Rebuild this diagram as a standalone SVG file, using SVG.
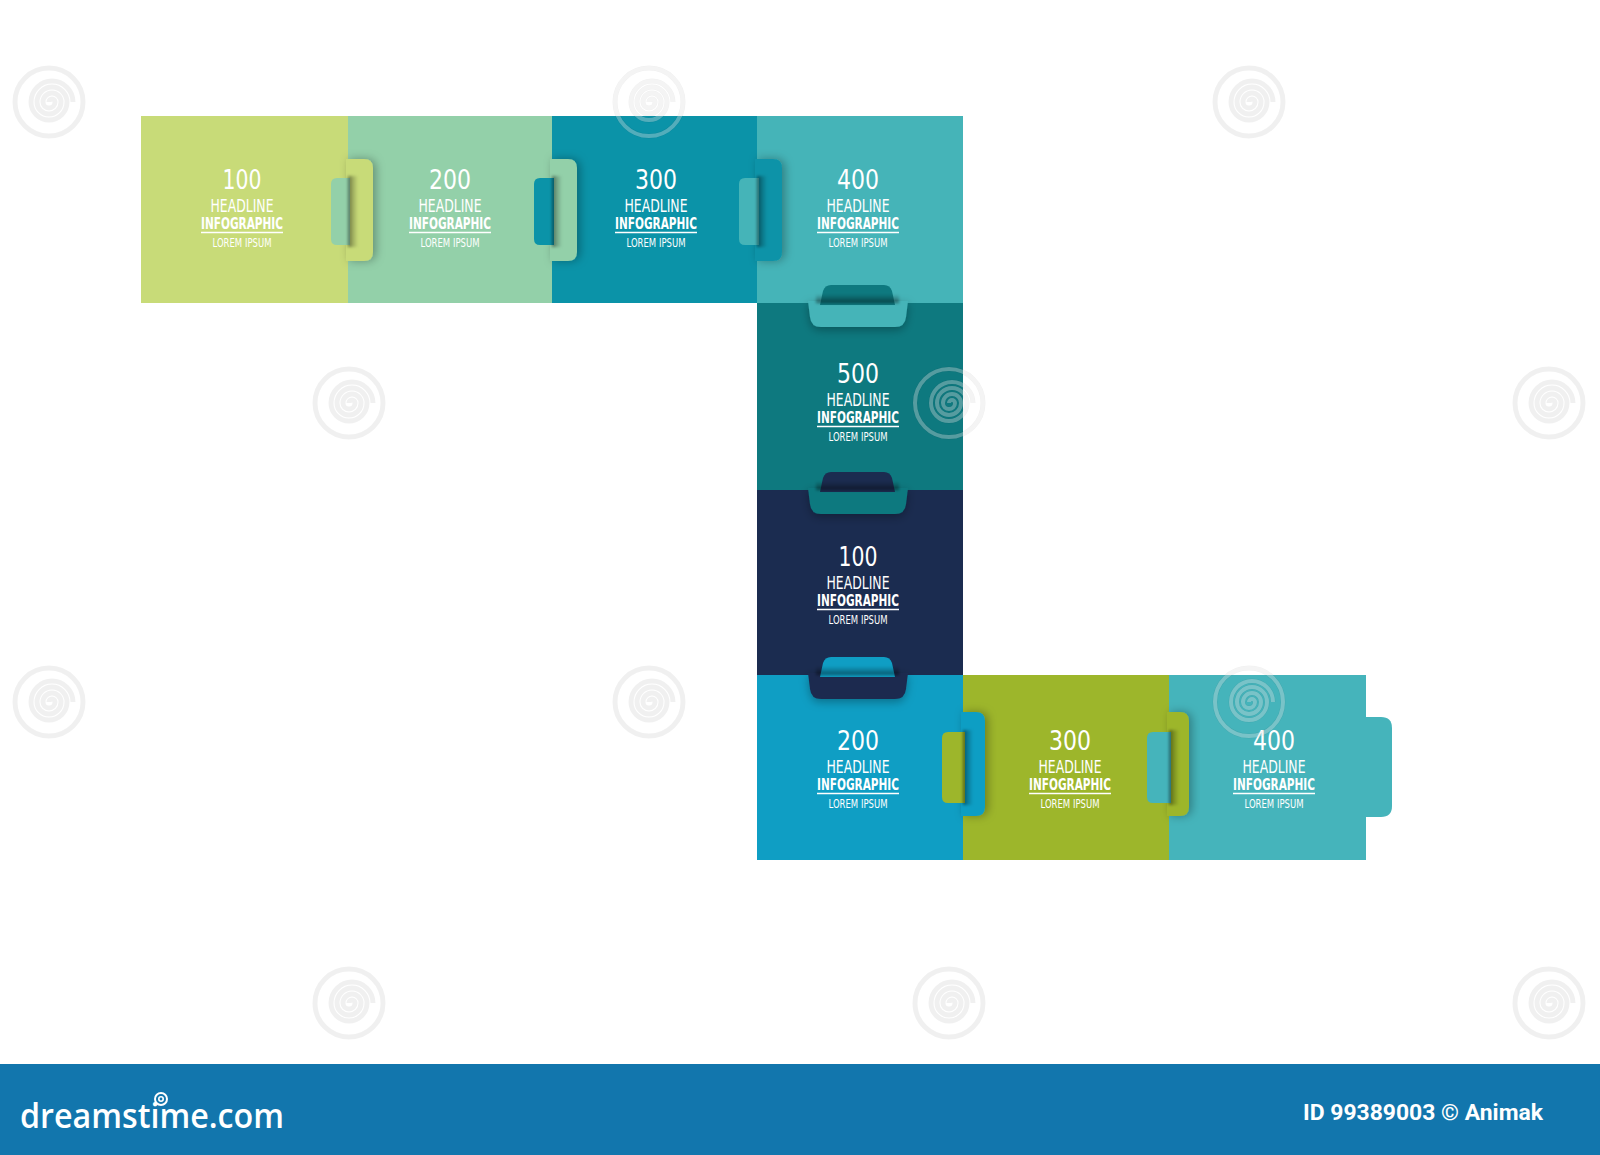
<svg xmlns="http://www.w3.org/2000/svg" width="1600" height="1155" viewBox="0 0 1600 1155">
  <style>
    .t { font-family: "Liberation Sans Narrow", "DejaVu Sans Condensed", "Liberation Sans", sans-serif; fill: #ffffff; text-anchor: middle; }
    .num { font-size: 27px; }
    .hl { font-size: 18px; }
    .ig { font-size: 15.5px; font-weight: bold; }
    .lo { font-size: 11.5px; }
    .ul { stroke: #ffffff; stroke-width: 1.6; }
    .slotv { fill: url(#slotH); }
    .sloth { fill: url(#slotV); }
    .wm1 { fill: none; stroke: #000000; stroke-opacity: 0.06; stroke-width: 5; }
    .wm2 { fill: none; stroke: #ffffff; stroke-opacity: 0.3; stroke-width: 4; }
  </style>
  <defs>
    <filter id="shR" x="-50%" y="-30%" width="200%" height="160%">
      <feDropShadow dx="3" dy="0" stdDeviation="5" flood-color="#000" flood-opacity="0.3"/>
    </filter>
    <filter id="shD" x="-30%" y="-50%" width="160%" height="200%">
      <feDropShadow dx="0" dy="3" stdDeviation="5" flood-color="#000" flood-opacity="0.3"/>
    </filter>
    <filter id="blur2" x="-50%" y="-50%" width="200%" height="200%">
      <feGaussianBlur stdDeviation="1.5"/>
    </filter>
    <linearGradient id="slotH" x1="0" y1="0" x2="1" y2="0">
      <stop offset="0" stop-color="#000" stop-opacity="0.5"/>
      <stop offset="0.4" stop-color="#000" stop-opacity="0.25"/>
      <stop offset="1" stop-color="#000" stop-opacity="0"/>
    </linearGradient>
    <linearGradient id="slotV" x1="0" y1="0" x2="0" y2="1">
      <stop offset="0" stop-color="#000" stop-opacity="0"/>
      <stop offset="0.6" stop-color="#000" stop-opacity="0.25"/>
      <stop offset="1" stop-color="#000" stop-opacity="0.5"/>
    </linearGradient>
    <g id="spiral">
      <circle cx="0" cy="0" r="34"/>
      <path d="M0,0 A3,3 0 0 1 6,0 A6,6 0 0 1 -6,0 A9,9 0 0 1 12,0 A12,12 0 0 1 -12,0 A15,15 0 0 1 18,0 A18,18 0 0 1 -18,0 A21,21 0 0 1 24,0"/>
    </g>
  </defs>

  <rect x="0" y="0" width="1600" height="1155" fill="#ffffff"/>

  <!-- cards -->
  <g id="card1"><rect x="141" y="116" width="207" height="187" fill="#c8db78"/></g>
  <g id="card2"><rect x="348" y="116" width="204" height="187" fill="#93d0a9"/></g>
  <g id="card3"><rect x="552" y="116" width="205" height="187" fill="#0b93a8"/></g>
  <g id="card4"><rect x="757" y="116" width="206" height="187" fill="#45b4b8"/></g>
  <g id="card5"><rect x="757" y="303" width="206" height="187" fill="#0e797f"/></g>
  <g id="card6"><rect x="757" y="490" width="206" height="185" fill="#1b2c50"/></g>
  <g id="card7"><rect x="757" y="675" width="206" height="185" fill="#0f9ec4"/></g>
  <g id="card8"><rect x="963" y="675" width="206" height="185" fill="#9db62b"/></g>
  <g id="card9">
    <rect x="1169" y="675" width="197" height="185" fill="#45b4bb"/>
    <path d="M1364,717 H1381 Q1392,717 1392,728 V806 Q1392,817 1381,817 H1364 Z" fill="#45b4bb"/>
  </g>

  <!-- joints between cards -->
  <g id="connectors">
    <!-- card1 -> card2 -->
    <path d="M346,159 H364 Q373,159 373,168 V252 Q373,261 364,261 H346 Z" fill="#c8db78" filter="url(#shR)"/>
    <path d="M350,178 H337 Q331,178 331,184 V239 Q331,245 337,245 H350 Z" fill="#93d0a9"/>
    <rect class="slotv" x="348" y="176" width="10" height="71" filter="url(#blur2)"/>
    <!-- card2 -> card3 -->
    <path d="M550,159 H568 Q577,159 577,168 V252 Q577,261 568,261 H550 Z" fill="#93d0a9" filter="url(#shR)"/>
    <path d="M554,178 H540 Q534,178 534,184 V239 Q534,245 540,245 H554 Z" fill="#0b93a8"/>
    <rect class="slotv" x="552" y="176" width="10" height="71" filter="url(#blur2)"/>
    <!-- card3 -> card4 -->
    <path d="M755,159 H773 Q782,159 782,168 V252 Q782,261 773,261 H755 Z" fill="#0b93a8" filter="url(#shR)"/>
    <path d="M759,178 H745 Q739,178 739,184 V239 Q739,245 745,245 H759 Z" fill="#45b4b8"/>
    <rect class="slotv" x="757" y="176" width="10" height="71" filter="url(#blur2)"/>
    <!-- card4 -> card5 -->
    <path d="M808,301 H908 L906,317 Q905,327 895,327 H821 Q811,327 810,317 Z" fill="#45b4b8" filter="url(#shD)"/>
    <path d="M820,305 L823,291 Q825,285 831,285 H884 Q890,285 892,291 L895,305 Z" fill="#0e797f"/>
    <rect class="sloth" x="816" y="294" width="83" height="9" filter="url(#blur2)"/>
    <!-- card5 -> card6 -->
    <path d="M808,488 H908 L906,504 Q905,514 895,514 H821 Q811,514 810,504 Z" fill="#0e797f" filter="url(#shD)"/>
    <path d="M820,492 L823,478 Q825,472 831,472 H884 Q890,472 892,478 L895,492 Z" fill="#1b2c50"/>
    <rect class="sloth" x="816" y="481" width="83" height="9" filter="url(#blur2)"/>
    <!-- card6 -> card7 -->
    <path d="M808,673 H908 L906,689 Q905,699 895,699 H821 Q811,699 810,689 Z" fill="#1b2c50" filter="url(#shD)"/>
    <path d="M820,677 L823,663 Q825,657 831,657 H884 Q890,657 892,663 L895,677 Z" fill="#0f9ec4"/>
    <rect class="sloth" x="816" y="666" width="83" height="9" filter="url(#blur2)"/>
    <!-- card7 -> card8 -->
    <path d="M961,712 H976 Q985,712 985,721 V807 Q985,816 976,816 H961 Z" fill="#0f9ec4" filter="url(#shR)"/>
    <path d="M965,732 H948 Q942,732 942,738 V797 Q942,803 948,803 H965 Z" fill="#9db62b"/>
    <rect class="slotv" x="963" y="730" width="10" height="75" filter="url(#blur2)"/>
    <!-- card8 -> card9 -->
    <path d="M1167,712 H1180 Q1189,712 1189,721 V807 Q1189,816 1180,816 H1167 Z" fill="#9db62b" filter="url(#shR)"/>
    <path d="M1171,732 H1153 Q1147,732 1147,738 V797 Q1147,803 1153,803 H1171 Z" fill="#45b4bb"/>
    <rect class="slotv" x="1169" y="730" width="10" height="75" filter="url(#blur2)"/>
  </g>

  <!-- card texts -->
  <g id="label1">
    <text class="t num" x="242" y="189" textLength="39" lengthAdjust="spacingAndGlyphs">100</text>
    <text class="t hl" x="242" y="212" textLength="63" lengthAdjust="spacingAndGlyphs">HEADLINE</text>
    <text class="t ig" x="242" y="229" textLength="82" lengthAdjust="spacingAndGlyphs">INFOGRAPHIC</text>
    <line class="ul" x1="201" y1="232.5" x2="283" y2="232.5"/>
    <text class="t lo" x="242" y="246.5" textLength="59" lengthAdjust="spacingAndGlyphs">LOREM IPSUM</text>
  </g>
  <g id="label2">
    <text class="t num" x="450" y="189" textLength="42" lengthAdjust="spacingAndGlyphs">200</text>
    <text class="t hl" x="450" y="212" textLength="63" lengthAdjust="spacingAndGlyphs">HEADLINE</text>
    <text class="t ig" x="450" y="229" textLength="82" lengthAdjust="spacingAndGlyphs">INFOGRAPHIC</text>
    <line class="ul" x1="409" y1="232.5" x2="491" y2="232.5"/>
    <text class="t lo" x="450" y="246.5" textLength="59" lengthAdjust="spacingAndGlyphs">LOREM IPSUM</text>
  </g>
  <g id="label3">
    <text class="t num" x="656" y="189" textLength="42" lengthAdjust="spacingAndGlyphs">300</text>
    <text class="t hl" x="656" y="212" textLength="63" lengthAdjust="spacingAndGlyphs">HEADLINE</text>
    <text class="t ig" x="656" y="229" textLength="82" lengthAdjust="spacingAndGlyphs">INFOGRAPHIC</text>
    <line class="ul" x1="615" y1="232.5" x2="697" y2="232.5"/>
    <text class="t lo" x="656" y="246.5" textLength="59" lengthAdjust="spacingAndGlyphs">LOREM IPSUM</text>
  </g>
  <g id="label4">
    <text class="t num" x="858" y="189" textLength="42" lengthAdjust="spacingAndGlyphs">400</text>
    <text class="t hl" x="858" y="212" textLength="63" lengthAdjust="spacingAndGlyphs">HEADLINE</text>
    <text class="t ig" x="858" y="229" textLength="82" lengthAdjust="spacingAndGlyphs">INFOGRAPHIC</text>
    <line class="ul" x1="817" y1="232.5" x2="899" y2="232.5"/>
    <text class="t lo" x="858" y="246.5" textLength="59" lengthAdjust="spacingAndGlyphs">LOREM IPSUM</text>
  </g>
  <g id="label5">
    <text class="t num" x="858" y="383" textLength="42" lengthAdjust="spacingAndGlyphs">500</text>
    <text class="t hl" x="858" y="406" textLength="63" lengthAdjust="spacingAndGlyphs">HEADLINE</text>
    <text class="t ig" x="858" y="423" textLength="82" lengthAdjust="spacingAndGlyphs">INFOGRAPHIC</text>
    <line class="ul" x1="817" y1="426.5" x2="899" y2="426.5"/>
    <text class="t lo" x="858" y="440.5" textLength="59" lengthAdjust="spacingAndGlyphs">LOREM IPSUM</text>
  </g>
  <g id="label6">
    <text class="t num" x="858" y="566" textLength="39" lengthAdjust="spacingAndGlyphs">100</text>
    <text class="t hl" x="858" y="589" textLength="63" lengthAdjust="spacingAndGlyphs">HEADLINE</text>
    <text class="t ig" x="858" y="606" textLength="82" lengthAdjust="spacingAndGlyphs">INFOGRAPHIC</text>
    <line class="ul" x1="817" y1="609.5" x2="899" y2="609.5"/>
    <text class="t lo" x="858" y="623.5" textLength="59" lengthAdjust="spacingAndGlyphs">LOREM IPSUM</text>
  </g>
  <g id="label7">
    <text class="t num" x="858" y="750" textLength="42" lengthAdjust="spacingAndGlyphs">200</text>
    <text class="t hl" x="858" y="773" textLength="63" lengthAdjust="spacingAndGlyphs">HEADLINE</text>
    <text class="t ig" x="858" y="790" textLength="82" lengthAdjust="spacingAndGlyphs">INFOGRAPHIC</text>
    <line class="ul" x1="817" y1="793.5" x2="899" y2="793.5"/>
    <text class="t lo" x="858" y="807.5" textLength="59" lengthAdjust="spacingAndGlyphs">LOREM IPSUM</text>
  </g>
  <g id="label8">
    <text class="t num" x="1070" y="750" textLength="42" lengthAdjust="spacingAndGlyphs">300</text>
    <text class="t hl" x="1070" y="773" textLength="63" lengthAdjust="spacingAndGlyphs">HEADLINE</text>
    <text class="t ig" x="1070" y="790" textLength="82" lengthAdjust="spacingAndGlyphs">INFOGRAPHIC</text>
    <line class="ul" x1="1029" y1="793.5" x2="1111" y2="793.5"/>
    <text class="t lo" x="1070" y="807.5" textLength="59" lengthAdjust="spacingAndGlyphs">LOREM IPSUM</text>
  </g>
  <g id="label9">
    <text class="t num" x="1274" y="750" textLength="42" lengthAdjust="spacingAndGlyphs">400</text>
    <text class="t hl" x="1274" y="773" textLength="63" lengthAdjust="spacingAndGlyphs">HEADLINE</text>
    <text class="t ig" x="1274" y="790" textLength="82" lengthAdjust="spacingAndGlyphs">INFOGRAPHIC</text>
    <line class="ul" x1="1233" y1="793.5" x2="1315" y2="793.5"/>
    <text class="t lo" x="1274" y="807.5" textLength="59" lengthAdjust="spacingAndGlyphs">LOREM IPSUM</text>
  </g>

  <!-- faint watermark spirals -->
  <g id="watermarks">
    <g class="wm1">
      <use href="#spiral" x="49" y="102"/><use href="#spiral" x="649" y="102"/><use href="#spiral" x="1249" y="102"/>
      <use href="#spiral" x="349" y="403"/><use href="#spiral" x="949" y="403"/><use href="#spiral" x="1549" y="403"/>
      <use href="#spiral" x="49" y="702"/><use href="#spiral" x="649" y="702"/><use href="#spiral" x="1249" y="702"/>
      <use href="#spiral" x="349" y="1003"/><use href="#spiral" x="949" y="1003"/><use href="#spiral" x="1549" y="1003"/>
    </g>
    <g class="wm2">
      <use href="#spiral" x="649" y="102"/><use href="#spiral" x="949" y="403"/><use href="#spiral" x="1249" y="702"/>
    </g>
  </g>

  <!-- footer banner -->
  <g id="banner">
    <rect x="0" y="1064" width="1600" height="91" fill="#1276ad"/>
    <text x="20" y="1128" font-family="'Open Sans', 'Liberation Sans', sans-serif" font-size="35" font-weight="600" fill="#ffffff" textLength="264" lengthAdjust="spacingAndGlyphs">dreamstime.com</text>
    <circle cx="161" cy="1099" r="6" fill="none" stroke="#ffffff" stroke-width="2"/>
    <circle cx="161" cy="1099" r="2.2" fill="none" stroke="#ffffff" stroke-width="1.6"/>
    <text x="1303" y="1120" font-family="Roboto, 'Liberation Sans', sans-serif" font-size="21.5" font-weight="bold" fill="#ffffff" textLength="240" lengthAdjust="spacingAndGlyphs">ID 99389003 © Animak</text>
  </g>
</svg>
